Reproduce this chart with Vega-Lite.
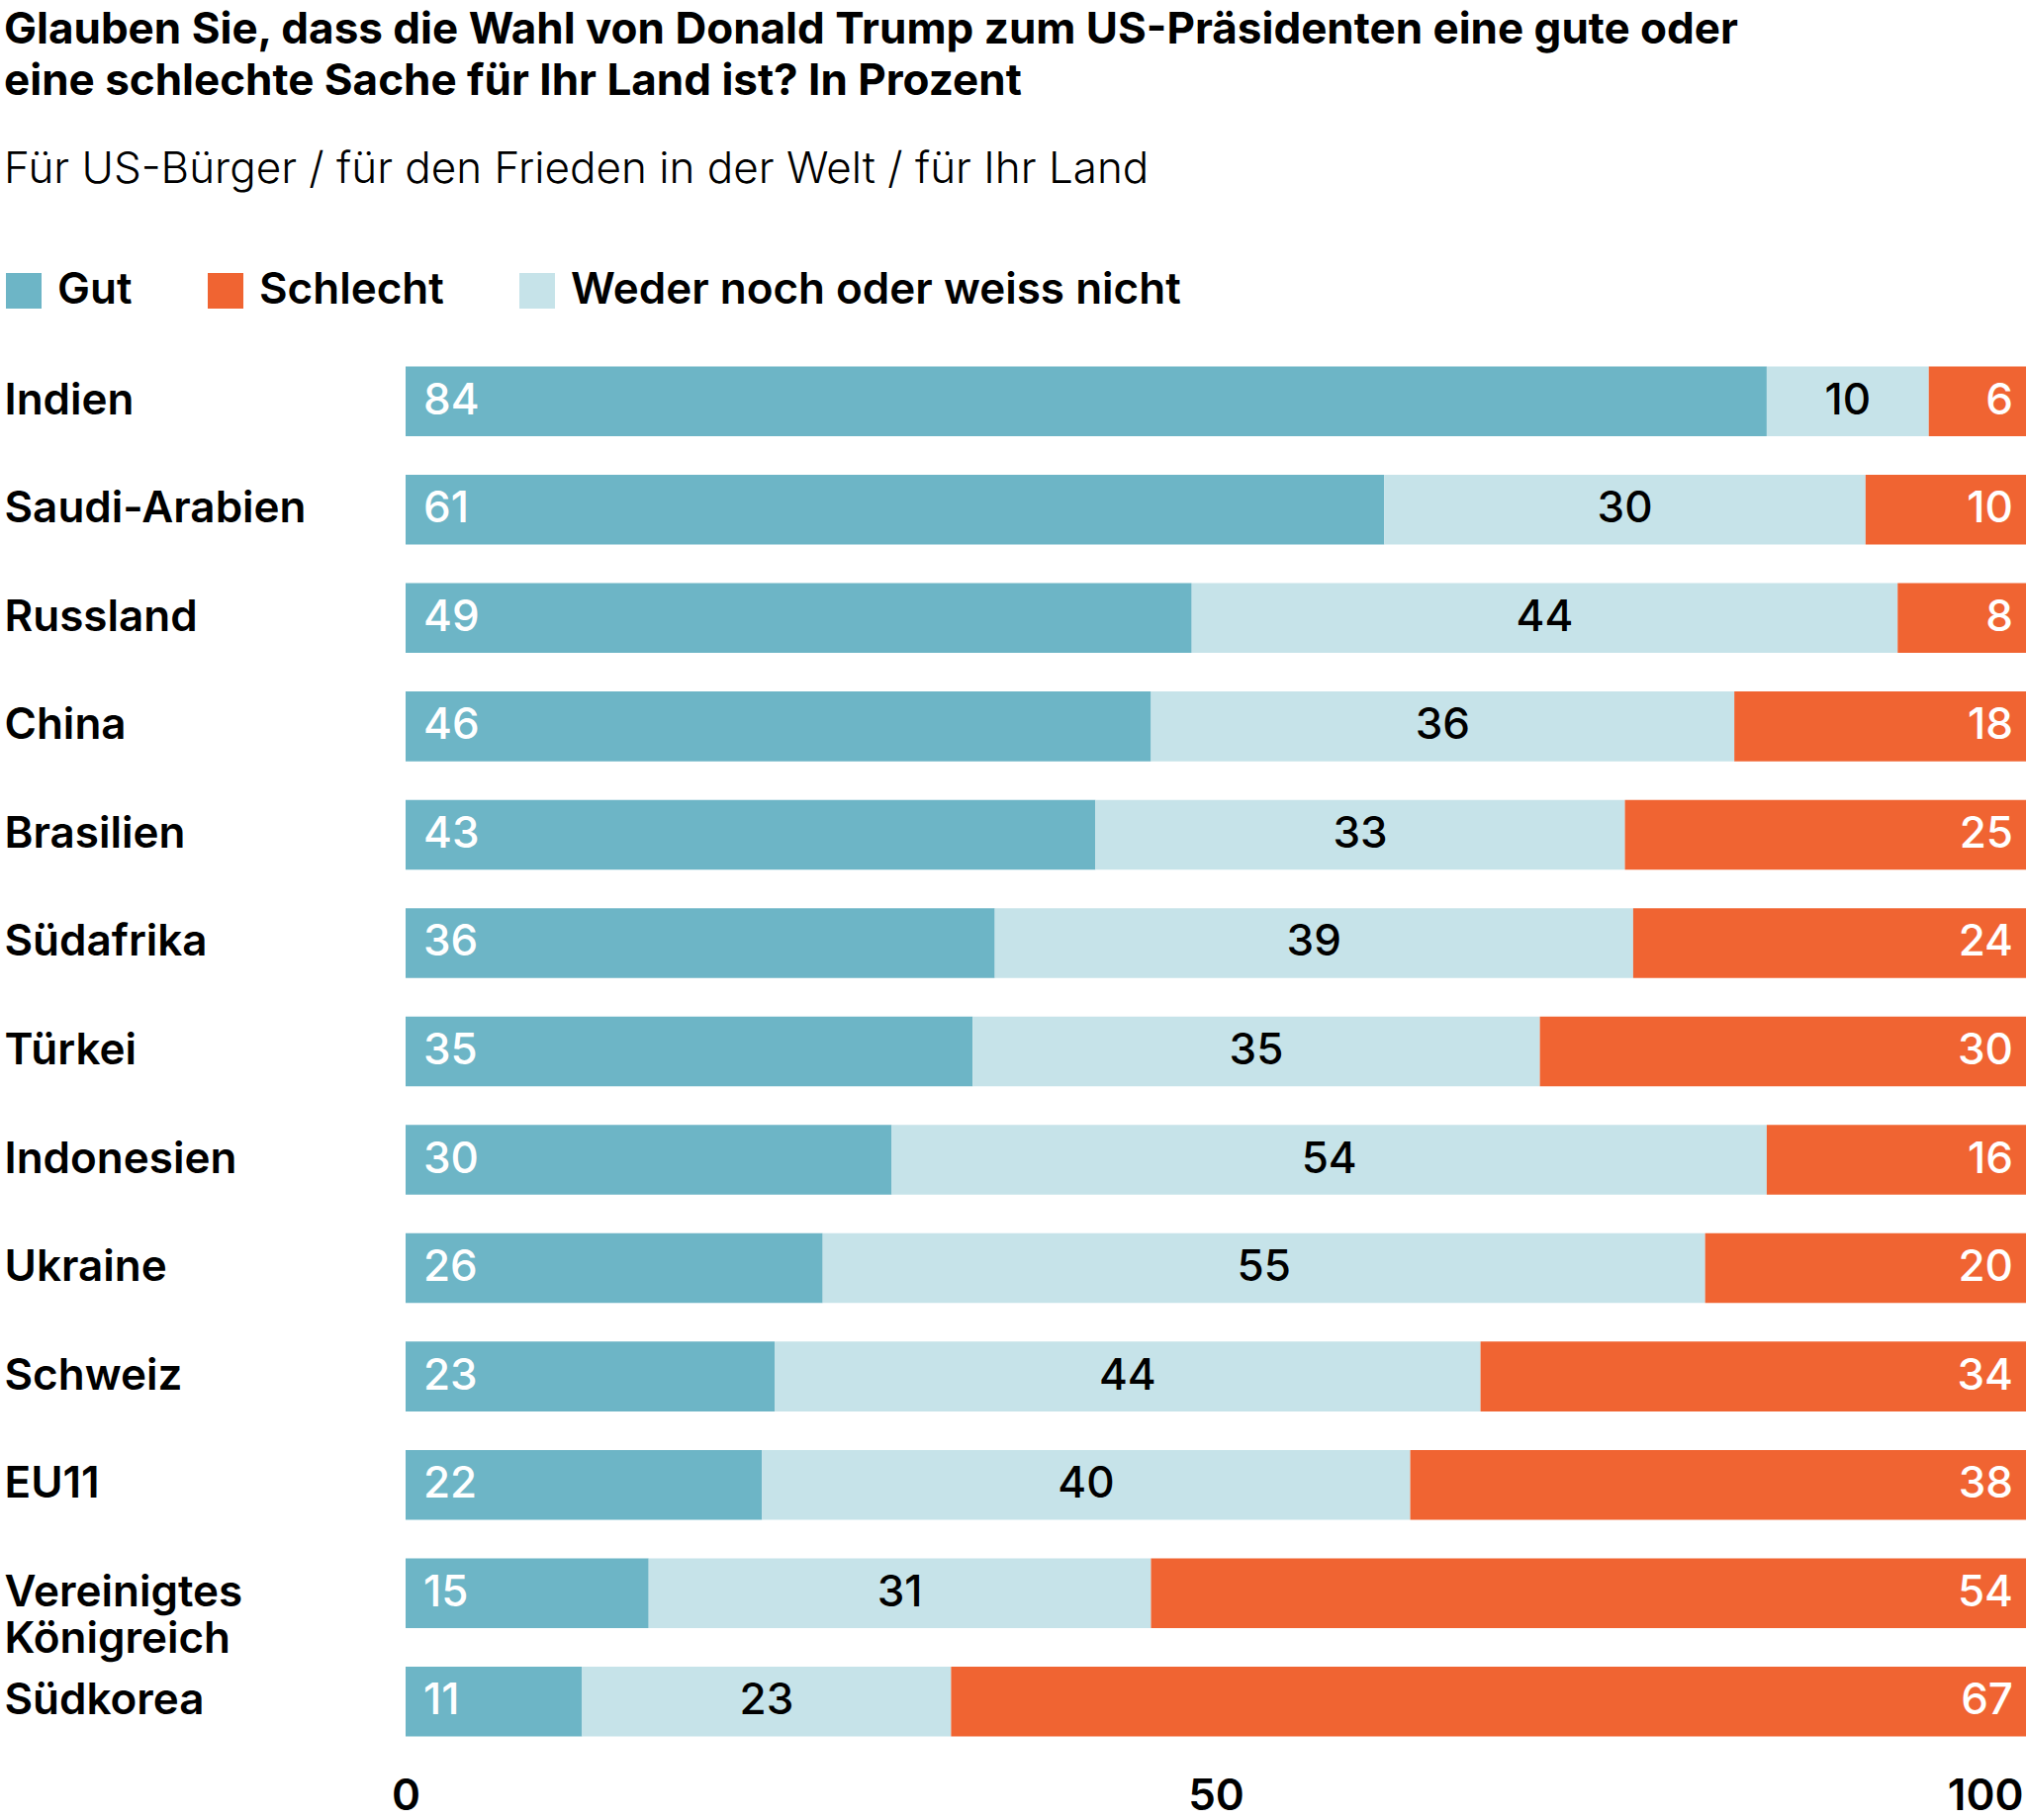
{
  "$schema": "https://vega.github.io/schema/vega-lite/v6.json",
  "autosize": {"type": "none"},
  "width": 1638,
  "height": 1424,
  "padding": {"left": 410, "top": 351, "right": 0, "bottom": 65},
  "background": "white",
  "config": {
    "font": "Inter",
    "view": {"stroke": null},
    "title": {"color": "black"}
  },
  "title": {
    "text": ["Glauben Sie, dass die Wahl von Donald Trump zum US-Präsidenten eine gute oder", "eine schlechte Sache für Ihr Land ist? In Prozent"],
    "subtitle": "Für US-Bürger / für den Frieden in der Welt / für Ihr Land",
    "anchor": "start",
    "frame": "group",
    "dx": -406,
    "offset": 78,
    "fontSize": 44,
    "fontWeight": 700,
    "lineHeight": 52,
    "subtitleFontSize": 44,
    "subtitleFontWeight": 300,
    "subtitleColor": "black",
    "subtitlePadding": 45
  },
  "data": {
    "values": [
      {"country": "Indien", "answer": "Gut", "value": 84},
      {"country": "Indien", "answer": "Weder noch oder weiss nicht", "value": 10},
      {"country": "Indien", "answer": "Schlecht", "value": 6},
      {"country": "Saudi-Arabien", "answer": "Gut", "value": 61},
      {"country": "Saudi-Arabien", "answer": "Weder noch oder weiss nicht", "value": 30},
      {"country": "Saudi-Arabien", "answer": "Schlecht", "value": 10},
      {"country": "Russland", "answer": "Gut", "value": 49},
      {"country": "Russland", "answer": "Weder noch oder weiss nicht", "value": 44},
      {"country": "Russland", "answer": "Schlecht", "value": 8},
      {"country": "China", "answer": "Gut", "value": 46},
      {"country": "China", "answer": "Weder noch oder weiss nicht", "value": 36},
      {"country": "China", "answer": "Schlecht", "value": 18},
      {"country": "Brasilien", "answer": "Gut", "value": 43},
      {"country": "Brasilien", "answer": "Weder noch oder weiss nicht", "value": 33},
      {"country": "Brasilien", "answer": "Schlecht", "value": 25},
      {"country": "Südafrika", "answer": "Gut", "value": 36},
      {"country": "Südafrika", "answer": "Weder noch oder weiss nicht", "value": 39},
      {"country": "Südafrika", "answer": "Schlecht", "value": 24},
      {"country": "Türkei", "answer": "Gut", "value": 35},
      {"country": "Türkei", "answer": "Weder noch oder weiss nicht", "value": 35},
      {"country": "Türkei", "answer": "Schlecht", "value": 30},
      {"country": "Indonesien", "answer": "Gut", "value": 30},
      {"country": "Indonesien", "answer": "Weder noch oder weiss nicht", "value": 54},
      {"country": "Indonesien", "answer": "Schlecht", "value": 16},
      {"country": "Ukraine", "answer": "Gut", "value": 26},
      {"country": "Ukraine", "answer": "Weder noch oder weiss nicht", "value": 55},
      {"country": "Ukraine", "answer": "Schlecht", "value": 20},
      {"country": "Schweiz", "answer": "Gut", "value": 23},
      {"country": "Schweiz", "answer": "Weder noch oder weiss nicht", "value": 44},
      {"country": "Schweiz", "answer": "Schlecht", "value": 34},
      {"country": "EU11", "answer": "Gut", "value": 22},
      {"country": "EU11", "answer": "Weder noch oder weiss nicht", "value": 40},
      {"country": "EU11", "answer": "Schlecht", "value": 38},
      {"country": "Vereinigtes Königreich", "answer": "Gut", "value": 15},
      {"country": "Vereinigtes Königreich", "answer": "Weder noch oder weiss nicht", "value": 31},
      {"country": "Vereinigtes Königreich", "answer": "Schlecht", "value": 54},
      {"country": "Südkorea", "answer": "Gut", "value": 11},
      {"country": "Südkorea", "answer": "Weder noch oder weiss nicht", "value": 23},
      {"country": "Südkorea", "answer": "Schlecht", "value": 67}
    ]
  },
  "transform": [
    {"stack": "value", "groupby": ["country"], "offset": "normalize", "as": ["v0", "v1"]}
  ],
  "encoding": {
    "y": {
      "field": "country",
      "type": "nominal",
      "sort": ["Indien", "Saudi-Arabien", "Russland", "China", "Brasilien", "Südafrika", "Türkei", "Indonesien", "Ukraine", "Schweiz", "EU11", "Vereinigtes Königreich", "Südkorea"],
      "scale": {"paddingInner": 0.356, "paddingOuter": 0.178},
      "axis": {
        "title": null,
        "domain": false,
        "ticks": false,
        "labelAlign": "left",
        "labelPadding": 406,
        "labelLimit": 400,
        "labelFontSize": 44,
        "labelFontWeight": 600,
        "labelColor": "black",
        "labelLineHeight": 47,
        "labelExpr": "datum.value == 'Vereinigtes Königreich' ? ['Vereinigtes', 'Königreich'] : datum.value"
      }
    }
  },
  "layer": [
    {
      "mark": {"type": "bar"},
      "encoding": {
        "x": {
          "field": "v0",
          "type": "quantitative",
          "scale": {"domain": [0, 1], "nice": false},
          "axis": {
            "title": null,
            "grid": false,
            "domain": false,
            "ticks": false,
            "values": [0, 0.5, 1],
            "labelExpr": "format(datum.value * 100, 'd')",
            "labelFontSize": 44,
            "labelFontWeight": 600,
            "labelColor": "black",
            "labelPadding": 19,
            "labelFlush": false,
            "labelAlign": {"condition": {"test": "datum.value == 1", "value": "right"}, "value": "center"},
            "labelOffset": {"condition": {"test": "datum.value == 1", "value": -3}, "value": 0}
          }
        },
        "x2": {"field": "v1"},
        "color": {
          "field": "answer",
          "type": "nominal",
          "scale": {
            "domain": ["Gut", "Schlecht", "Weder noch oder weiss nicht"],
            "range": ["#6db5c6", "#f06432", "#c6e3e9"]
          },
          "legend": {
            "title": null,
            "orient": "none",
            "legendX": -408,
            "legendY": -79,
            "direction": "horizontal",
            "symbolType": "square",
            "symbolSize": 1296,
            "symbolStrokeWidth": 0,
            "symbolOpacity": 1,
            "labelFontSize": 44,
            "labelFontWeight": 600,
            "labelColor": "black",
            "labelOffset": 12,
            "columnPadding": 72,
            "labelLimit": 800
          }
        }
      }
    },
    {
      "transform": [{"filter": "datum.answer == 'Gut'"}],
      "mark": {"type": "text", "align": "left", "baseline": "middle", "dx": 18, "fontSize": 44, "fontWeight": 500, "color": "white"},
      "encoding": {
        "x": {"field": "v0", "type": "quantitative"},
        "text": {"field": "value", "type": "quantitative"}
      }
    },
    {
      "transform": [
        {"filter": "datum.answer == 'Weder noch oder weiss nicht'"},
        {"calculate": "(datum.v0 + datum.v1) / 2", "as": "mid"}
      ],
      "mark": {"type": "text", "align": "center", "baseline": "middle", "fontSize": 44, "fontWeight": 500, "color": "black"},
      "encoding": {
        "x": {"field": "mid", "type": "quantitative"},
        "text": {"field": "value", "type": "quantitative"}
      }
    },
    {
      "transform": [{"filter": "datum.answer == 'Schlecht'"}],
      "mark": {"type": "text", "align": "right", "baseline": "middle", "dx": -13, "fontSize": 44, "fontWeight": 500, "color": "white"},
      "encoding": {
        "x": {"field": "v1", "type": "quantitative"},
        "text": {"field": "value", "type": "quantitative"}
      }
    }
  ]
}
